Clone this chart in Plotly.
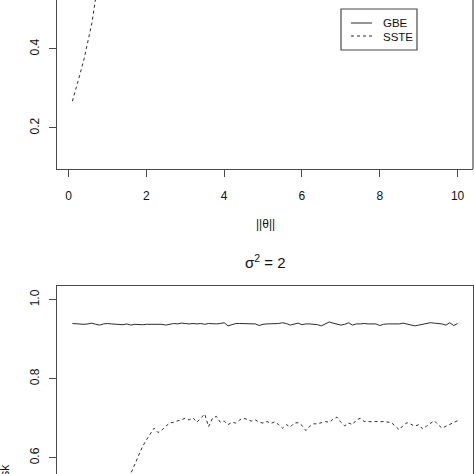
import plotly.graph_objects as go

# ---------------- data ----------------
theta = [round(0.1 * i, 1) for i in range(1, 101)]

# top panel (only the lower part visible)
top_sste = [0.268, 0.300, 0.338, 0.375, 0.416, 0.465, 0.530, 0.590, 0.640, 0.690,
            0.720, 0.745, 0.765, 0.780, 0.792, 0.800, 0.806, 0.810, 0.812, 0.815,
            0.816, 0.818, 0.815, 0.819, 0.820, 0.817, 0.821, 0.818, 0.820, 0.816,
            0.819, 0.822, 0.818, 0.820, 0.817, 0.821, 0.819, 0.816, 0.820, 0.818,
            0.821, 0.817, 0.819, 0.822, 0.818, 0.820, 0.816, 0.819, 0.821, 0.818,
            0.820, 0.817, 0.819, 0.821, 0.818, 0.820, 0.816, 0.819, 0.822, 0.818,
            0.820, 0.817, 0.819, 0.821, 0.818, 0.820, 0.816, 0.819, 0.821, 0.818,
            0.820, 0.817, 0.819, 0.822, 0.818, 0.820, 0.816, 0.819, 0.821, 0.818,
            0.820, 0.817, 0.819, 0.821, 0.818, 0.820, 0.816, 0.819, 0.821, 0.818,
            0.820, 0.817, 0.819, 0.822, 0.818, 0.820, 0.816, 0.819, 0.821, 0.818]
top_gbe = [0.955, 0.956, 0.954, 0.955, 0.957, 0.955, 0.954, 0.956, 0.955, 0.954,
           0.956, 0.955, 0.954, 0.955, 0.957, 0.955, 0.954, 0.956, 0.955, 0.954,
           0.956, 0.955, 0.954, 0.955, 0.957, 0.955, 0.954, 0.956, 0.955, 0.954,
           0.956, 0.955, 0.954, 0.955, 0.957, 0.955, 0.954, 0.956, 0.955, 0.954,
           0.956, 0.955, 0.954, 0.955, 0.957, 0.955, 0.954, 0.956, 0.955, 0.954,
           0.956, 0.955, 0.954, 0.955, 0.957, 0.955, 0.954, 0.956, 0.955, 0.954,
           0.956, 0.955, 0.954, 0.955, 0.957, 0.955, 0.954, 0.956, 0.955, 0.954,
           0.956, 0.955, 0.954, 0.955, 0.957, 0.955, 0.954, 0.956, 0.955, 0.954,
           0.956, 0.955, 0.954, 0.955, 0.957, 0.955, 0.954, 0.956, 0.955, 0.954,
           0.956, 0.955, 0.954, 0.955, 0.957, 0.955, 0.954, 0.956, 0.955, 0.954]

# bottom panel: sigma^2 = 2
bot_gbe = [0.940, 0.939, 0.939, 0.938, 0.939, 0.941, 0.938, 0.936, 0.939, 0.940,
           0.939, 0.938, 0.938, 0.937, 0.939, 0.936, 0.938, 0.937, 0.937, 0.938,
           0.938, 0.939, 0.939, 0.938, 0.936, 0.938, 0.940, 0.939, 0.941, 0.940,
           0.939, 0.940, 0.939, 0.940, 0.938, 0.940, 0.939, 0.939, 0.940, 0.942,
           0.934, 0.938, 0.940, 0.940, 0.940, 0.940, 0.940, 0.939, 0.935, 0.938,
           0.939, 0.939, 0.939, 0.940, 0.942, 0.940, 0.936, 0.938, 0.941, 0.937,
           0.939, 0.939, 0.938, 0.937, 0.934, 0.938, 0.944, 0.941, 0.938, 0.936,
           0.938, 0.942, 0.936, 0.939, 0.939, 0.940, 0.939, 0.939, 0.939, 0.935,
           0.938, 0.939, 0.939, 0.940, 0.939, 0.941, 0.939, 0.937, 0.934, 0.936,
           0.938, 0.940, 0.942, 0.941, 0.940, 0.939, 0.936, 0.942, 0.935, 0.940]
bot_sste = [0.200, 0.210, 0.230, 0.250, 0.280, 0.310, 0.340, 0.370, 0.400, 0.430,
            0.460, 0.480, 0.510, 0.530, 0.550, 0.560, 0.582, 0.605, 0.628, 0.645,
            0.660, 0.675, 0.664, 0.670, 0.680, 0.688, 0.690, 0.694, 0.698, 0.700,
            0.696, 0.701, 0.690, 0.700, 0.711, 0.679, 0.700, 0.705, 0.690, 0.693,
            0.684, 0.690, 0.688, 0.696, 0.700, 0.697, 0.693, 0.696, 0.690, 0.688,
            0.692, 0.687, 0.691, 0.684, 0.675, 0.684, 0.678, 0.688, 0.689, 0.682,
            0.669, 0.680, 0.686, 0.686, 0.690, 0.692, 0.690, 0.698, 0.703, 0.690,
            0.681, 0.688, 0.684, 0.696, 0.700, 0.692, 0.692, 0.691, 0.692, 0.691,
            0.692, 0.691, 0.689, 0.680, 0.671, 0.682, 0.689, 0.685, 0.680, 0.684,
            0.673, 0.680, 0.686, 0.694, 0.684, 0.675, 0.680, 0.684, 0.688, 0.694]

series_names = ["GBE", "SSTE"]
x_ticks = [0, 2, 4, 6, 8, 10]
top_y_ticks = [0.2, 0.4, 0.6, 0.8, 1.0]
bot_y_ticks = [0.6, 0.8, 1.0]

# ---------------- layout helpers ----------------
W = H = 474
def px(p):
    return p / W
def py(p):
    return 1 - p / H

FONT = "Liberation Sans, Arial, Helvetica, sans-serif"
LINE_COL = "#2b2b2b"
AX_COL = "#4a4a4a"
DASH = "3px,3px"

fig = go.Figure()
fig.add_trace(go.Scatter(x=theta, y=top_gbe, mode="lines", name=series_names[0],
                         line=dict(color=LINE_COL, width=1), xaxis="x", yaxis="y",
                         showlegend=False))
fig.add_trace(go.Scatter(x=theta, y=top_sste, mode="lines", name=series_names[1],
                         line=dict(color=LINE_COL, width=1, dash=DASH), xaxis="x", yaxis="y",
                         showlegend=False))
fig.add_trace(go.Scatter(x=theta, y=bot_gbe, mode="lines", name=series_names[0],
                         line=dict(color=LINE_COL, width=1), xaxis="x2", yaxis="y2",
                         showlegend=False))
fig.add_trace(go.Scatter(x=theta, y=bot_sste, mode="lines", name=series_names[1],
                         line=dict(color=LINE_COL, width=1, dash=DASH), xaxis="x2", yaxis="y2",
                         showlegend=False))

xdom = [px(57), px(473)]
axis_common = dict(showgrid=False, zeroline=False, showline=True, linecolor=AX_COL,
                   linewidth=1.2, tickcolor=AX_COL, tickwidth=1.2,
                   tickfont=dict(family=FONT, size=12, color="#111111"))

fig.update_layout(
    width=W, height=H,
    margin=dict(l=0, r=0, t=0, b=0),
    paper_bgcolor="white", plot_bgcolor="white",
    showlegend=False,
    xaxis=dict(domain=xdom, range=[-0.296, 10.396], tickvals=x_ticks,
               ticks="outside", ticklen=7,
               anchor="y", ticklabelstandoff=8, **axis_common),
    yaxis=dict(domain=[py(169), 1.0], range=[0.0962, 0.524], tickvals=top_y_ticks,
               ticks="outside", ticklen=7,
               tickformat=".1f", tickangle=-90, anchor="x", ticklabelstandoff=5,
               **axis_common),
    xaxis2=dict(domain=xdom, range=[-0.296, 10.396], tickvals=x_ticks, side="top",
                ticks="", anchor="y2", showticklabels=False, **axis_common),
    yaxis2=dict(domain=[0.0, py(286)], range=[0.559, 1.035], tickvals=bot_y_ticks,
                ticks="outside", ticklen=7,
                tickformat=".1f", tickangle=-90, anchor="x2", mirror=True,
                ticklabelstandoff=5, **axis_common),
)

shapes = []
# right border of the top panel
shapes.append(dict(type="line", xref="x domain", yref="y domain", x0=1, x1=1, y0=0, y1=1,
                   line=dict(color=AX_COL, width=1.2)))
# legend box
shapes.append(dict(type="rect", xref="paper", yref="paper",
                   x0=px(341), x1=px(417), y0=py(50), y1=py(9),
                   line=dict(color=AX_COL, width=1.2), fillcolor="white"))
shapes.append(dict(type="line", xref="paper", yref="paper",
                   x0=px(351), x1=px(372), y0=py(23), y1=py(23),
                   line=dict(color=LINE_COL, width=1)))
shapes.append(dict(type="line", xref="paper", yref="paper",
                   x0=px(351), x1=px(372), y0=py(36), y1=py(36),
                   line=dict(color=LINE_COL, width=1, dash=DASH)))
fig.update_layout(shapes=shapes)

ann = []
ann.append(dict(text=series_names[0], x=px(382), y=py(22.5), xref="paper", yref="paper",
                xanchor="left", yanchor="middle", showarrow=False, borderpad=0,
                font=dict(family=FONT, size=11.5, color="#111111")))
ann.append(dict(text=series_names[1], x=px(382), y=py(36.5), xref="paper", yref="paper",
                xanchor="left", yanchor="middle", showarrow=False, borderpad=0,
                font=dict(family=FONT, size=11.5, color="#111111")))
ann.append(dict(text="||θ||", x=px(265), y=py(224), xref="paper", yref="paper",
                xanchor="center", yanchor="middle", showarrow=False,
                font=dict(family=FONT, size=12, color="#111111")))
ann.append(dict(text="σ<sup>2</sup> = 2", x=px(265), y=py(261), xref="paper", yref="paper",
                xanchor="center", yanchor="middle", showarrow=False,
                font=dict(family=FONT, size=15, color="#111111")))
ann.append(dict(text="Risk", x=px(5), y=py(476), xref="paper", yref="paper",
                xanchor="center", yanchor="middle", showarrow=False, textangle=-90,
                font=dict(family=FONT, size=12, color="#111111")))
fig.update_layout(annotations=ann)

fig.write_html("out.html", config={"displayModeBar": False},
               post_script="document.body.style.margin='0';document.body.style.overflow='hidden';")
